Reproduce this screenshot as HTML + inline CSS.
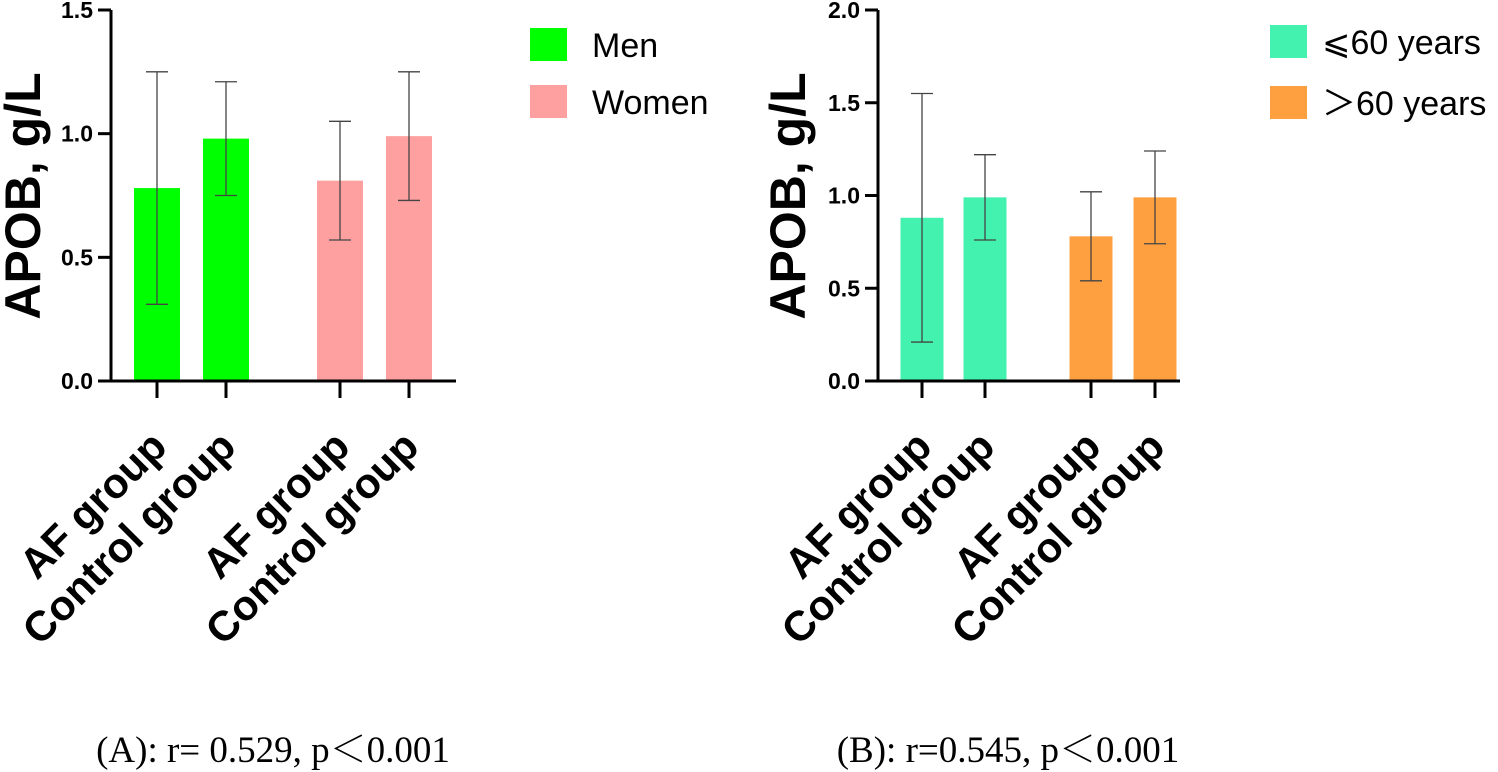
<!DOCTYPE html>
<html><head><meta charset="utf-8">
<style>
html,body{margin:0;padding:0;background:#fff;}
svg{display:block;}
</style></head>
<body>
<svg id="svg" width="1498" height="772" viewBox="0 0 1498 772" xmlns="http://www.w3.org/2000/svg">
<text x="273" y="762" text-anchor="middle" font-family="Liberation Serif, Noto Serif CJK SC, serif" font-size="37">(A): r= 0.529, p＜0.001</text>
<text x="1008" y="762" text-anchor="middle" font-family="Liberation Serif, Noto Serif CJK SC, serif" font-size="37">(B): r=0.545, p＜0.001</text>
</svg>
<script>
const categories = ["AF group","Control group","AF group","Control group"];
const aValues = [0.78, 0.98, 0.81, 0.99];
const aLow = [0.31, 0.75, 0.57, 0.73];
const aHigh = [1.25, 1.21, 1.05, 1.25];
const aTicks = ["0.0","0.5","1.0","1.5"];
const aLegend = ["Men","Women"];
const bValues = [0.88, 0.99, 0.78, 0.99];
const bLow = [0.21, 0.76, 0.54, 0.74];
const bHigh = [1.55, 1.22, 1.02, 1.24];
const bTicks = ["0.0","0.5","1.0","1.5","2.0"];
const bLegend = ["⩽60 years","＞60 years"];

const NS="http://www.w3.org/2000/svg";
const svg=document.getElementById('svg');
const SANS="Liberation Sans, Noto Sans CJK SC, sans-serif";
function mk(tag,attrs,parent){const e=document.createElementNS(NS,tag);for(const k in attrs)e.setAttribute(k,attrs[k]);(parent||svg).appendChild(e);return e;}

function chart(cfg){
  const g=mk('g',{});
  
  
  const y0=381,y1=10;
  const ymax=parseFloat(cfg.ticks[cfg.ticks.length-1]);
  const y=v=>y0-(v/ymax)*(y0-y1);
  const x=i=>cfg.centers[i];
  cfg.values.forEach((v,i)=>{
    const r=mk('rect',{x:x(i)-cfg.bw/2,y:y(v),width:cfg.bw,height:y0-y(v),fill:cfg.colors[i<2?0:1]},g);
    
    
    const e=mk('path',{d:`M${x(i)},${y(cfg.low[i])}V${y(cfg.high[i])}M${x(i)-11},${y(cfg.high[i])}H${x(i)+11}M${x(i)-11},${y(cfg.low[i])}H${x(i)+11}`,stroke:'#444','stroke-width':1.3,fill:'none'},g);
    
    
  });
  const ax=mk('path',{d:`M${cfg.ax},${y1}V${y0+1}M${cfg.ax-13},${y0}H${cfg.xend}`,stroke:'#000','stroke-width':3,fill:'none'},g);
  
  
  cfg.ticks.forEach(t=>{
    const yy=y(parseFloat(t));
    mk('line',{x1:cfg.ax-13,x2:cfg.ax,y1:yy,y2:yy,stroke:'#000','stroke-width':3},g);
    const tx=mk('text',{x:cfg.ax-18,y:yy+8,'text-anchor':'end','font-family':SANS,'font-weight':'bold','font-size':23},g);
    tx.textContent=t;
    
    
  });
  categories.forEach((c,i)=>{
    mk('line',{x1:x(i),x2:x(i),y1:y0,y2:y0+17,stroke:'#000','stroke-width':3},g);
    const ax_=x(i)+12, ay=y0+68;
    const tx=mk('text',{x:ax_,y:ay,'text-anchor':'end','font-family':SANS,'font-weight':'bold','font-size':42,transform:`rotate(-45 ${ax_} ${ay})`},g);
    tx.textContent=c;
    
    
  });
  const yl=mk('text',{x:cfg.ylx,y:196,'text-anchor':'middle','font-family':SANS,'font-weight':'bold','font-size':50,transform:`rotate(-90 ${cfg.ylx} 196)`},g);
  yl.textContent='APOB, g/L';
  
  
  cfg.legend.forEach((l,i)=>{
    const sq=mk('rect',{x:cfg.lx,y:cfg.ly[i],width:37,height:33,fill:cfg.colors[i]},g);
    
    
    const t=mk('text',{x:cfg.lx+cfg.lt,y:cfg.ly[i]+29,'font-family':SANS,'font-size':34},g);
    t.textContent=l;
    
    
  });
}
chart({name:'chart-a',values:aValues,low:aLow,high:aHigh,ticks:aTicks,legend:aLegend,
  colors:['#00ff00','#ffa0a0'],centers:[157,226,340,409],bw:46,ax:111,xend:456,ylx:40,lx:530,ly:[28,85],lt:62});
chart({name:'chart-b',values:bValues,low:bLow,high:bHigh,ticks:bTicks,legend:bLegend,
  colors:['#44f2b0','#ffa040'],centers:[922,985,1091,1155],bw:43,ax:878,xend:1180,ylx:805,lx:1270,ly:[25,86],lt:52});
</script>
</body></html>
